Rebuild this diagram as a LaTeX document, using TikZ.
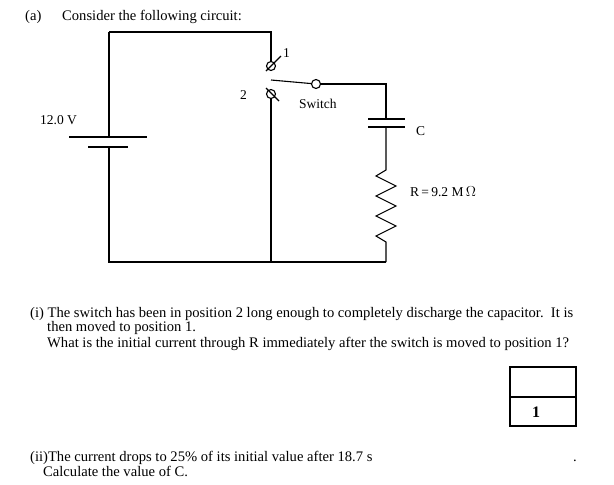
\documentclass[tikz,border=0pt]{standalone}
\usepackage{fontspec}
\setmainfont{Liberation Serif}
\begin{document}
\begin{tikzpicture}[x=1pt,y=-1pt,
  wire/.style={line width=1.1pt},
  txt/.style={font=\fontsize{14.6}{16}\selectfont,inner sep=0pt,anchor=base west},
  lbl/.style={font=\fontsize{13.5}{14}\selectfont,inner sep=0pt,anchor=base west},
  term/.style={circle,draw,line width=1.1pt,minimum size=9pt,inner sep=0pt}]
\useasboundingbox (0,0) rectangle (614,485);
\node[txt] (qa) at (25,20) {(a)};
\node[txt] (qa2) at (62,20) {Consider the following circuit:};
\coordinate (tl) at (109,32);
\coordinate (tm) at (271,32);
\coordinate (bl) at (109,262);
\coordinate (bm) at (271,262);
\coordinate (br) at (386,262);
\node[term] (t1) at (271,66) {};
\node[term] (t2) at (271,94) {};
\node[term] (sw) at (316,84) {};
\coordinate (piv) at (271,80);
\coordinate (cr) at (386,84);
\coordinate (bp1) at (109,137);
\coordinate (bp2) at (109,147);
\draw[wire] (tl) -- (tm) -- (t1);
\draw[wire] (tl) -- (bp1);
\draw[line width=1.8pt] (69,137) -- (147,137);
\draw[line width=1.3pt] (88,147) -- (128,147);
\draw[wire] (bp2) -- (bl) -- (br);
\draw[wire] (bm) -- (t2);
\draw[wire] (piv) -- (sw);
\draw[wire] (266,71) -- (281,56);
\draw[wire] (266,88) -- (279,101);
\draw[wire] (sw) -- (cr) -- (386,119);
\draw[line width=1.3pt] (368,119) -- (405,119);
\draw[line width=1.3pt] (368,127) -- (405,127);
\draw[wire] (386,127) -- (386,170) -- (376,176) -- (396,186) -- (376,196) -- (396,206) -- (376,216) -- (396,226) -- (376,236) -- (386,242) -- (br);
\node[lbl] (l1) at (283,57) {1};
\node[lbl] (l2) at (240,99) {2};
\node[lbl] (lsw) at (299,108) {Switch};
\node[lbl] (lv) at (40,124) {12.0 V};
\node[lbl] (lc) at (416,135) {C};
\node[lbl] (lr) at (410,196) {R\,=\,9.2 M\,$\Omega$};
\node[txt] (q1) at (30,317) {(i) The switch has been in position 2 long enough to completely discharge the capacitor.\ \ It is};
\node[txt] (q1b) at (47,331) {then moved to position 1.};
\node[txt] (q1c) at (47,347) {What is the initial current through R immediately after the switch is moved to position 1?};
\draw[line width=1.6pt] (510,367) rectangle (576,426);
\draw[wire] (510,397) -- (576,397);
\node[txt,font=\bfseries\fontsize{16}{18}\selectfont] (m1) at (532,417) {1};
\node[txt] (q2) at (30,461) {(ii)The current drops to 25\% of its initial value after 18.7 s};
\node[txt] (q2b) at (43,476) {Calculate the value of C.};
\node[txt] (dot) at (573,461) {.};
\end{tikzpicture}
\end{document}
